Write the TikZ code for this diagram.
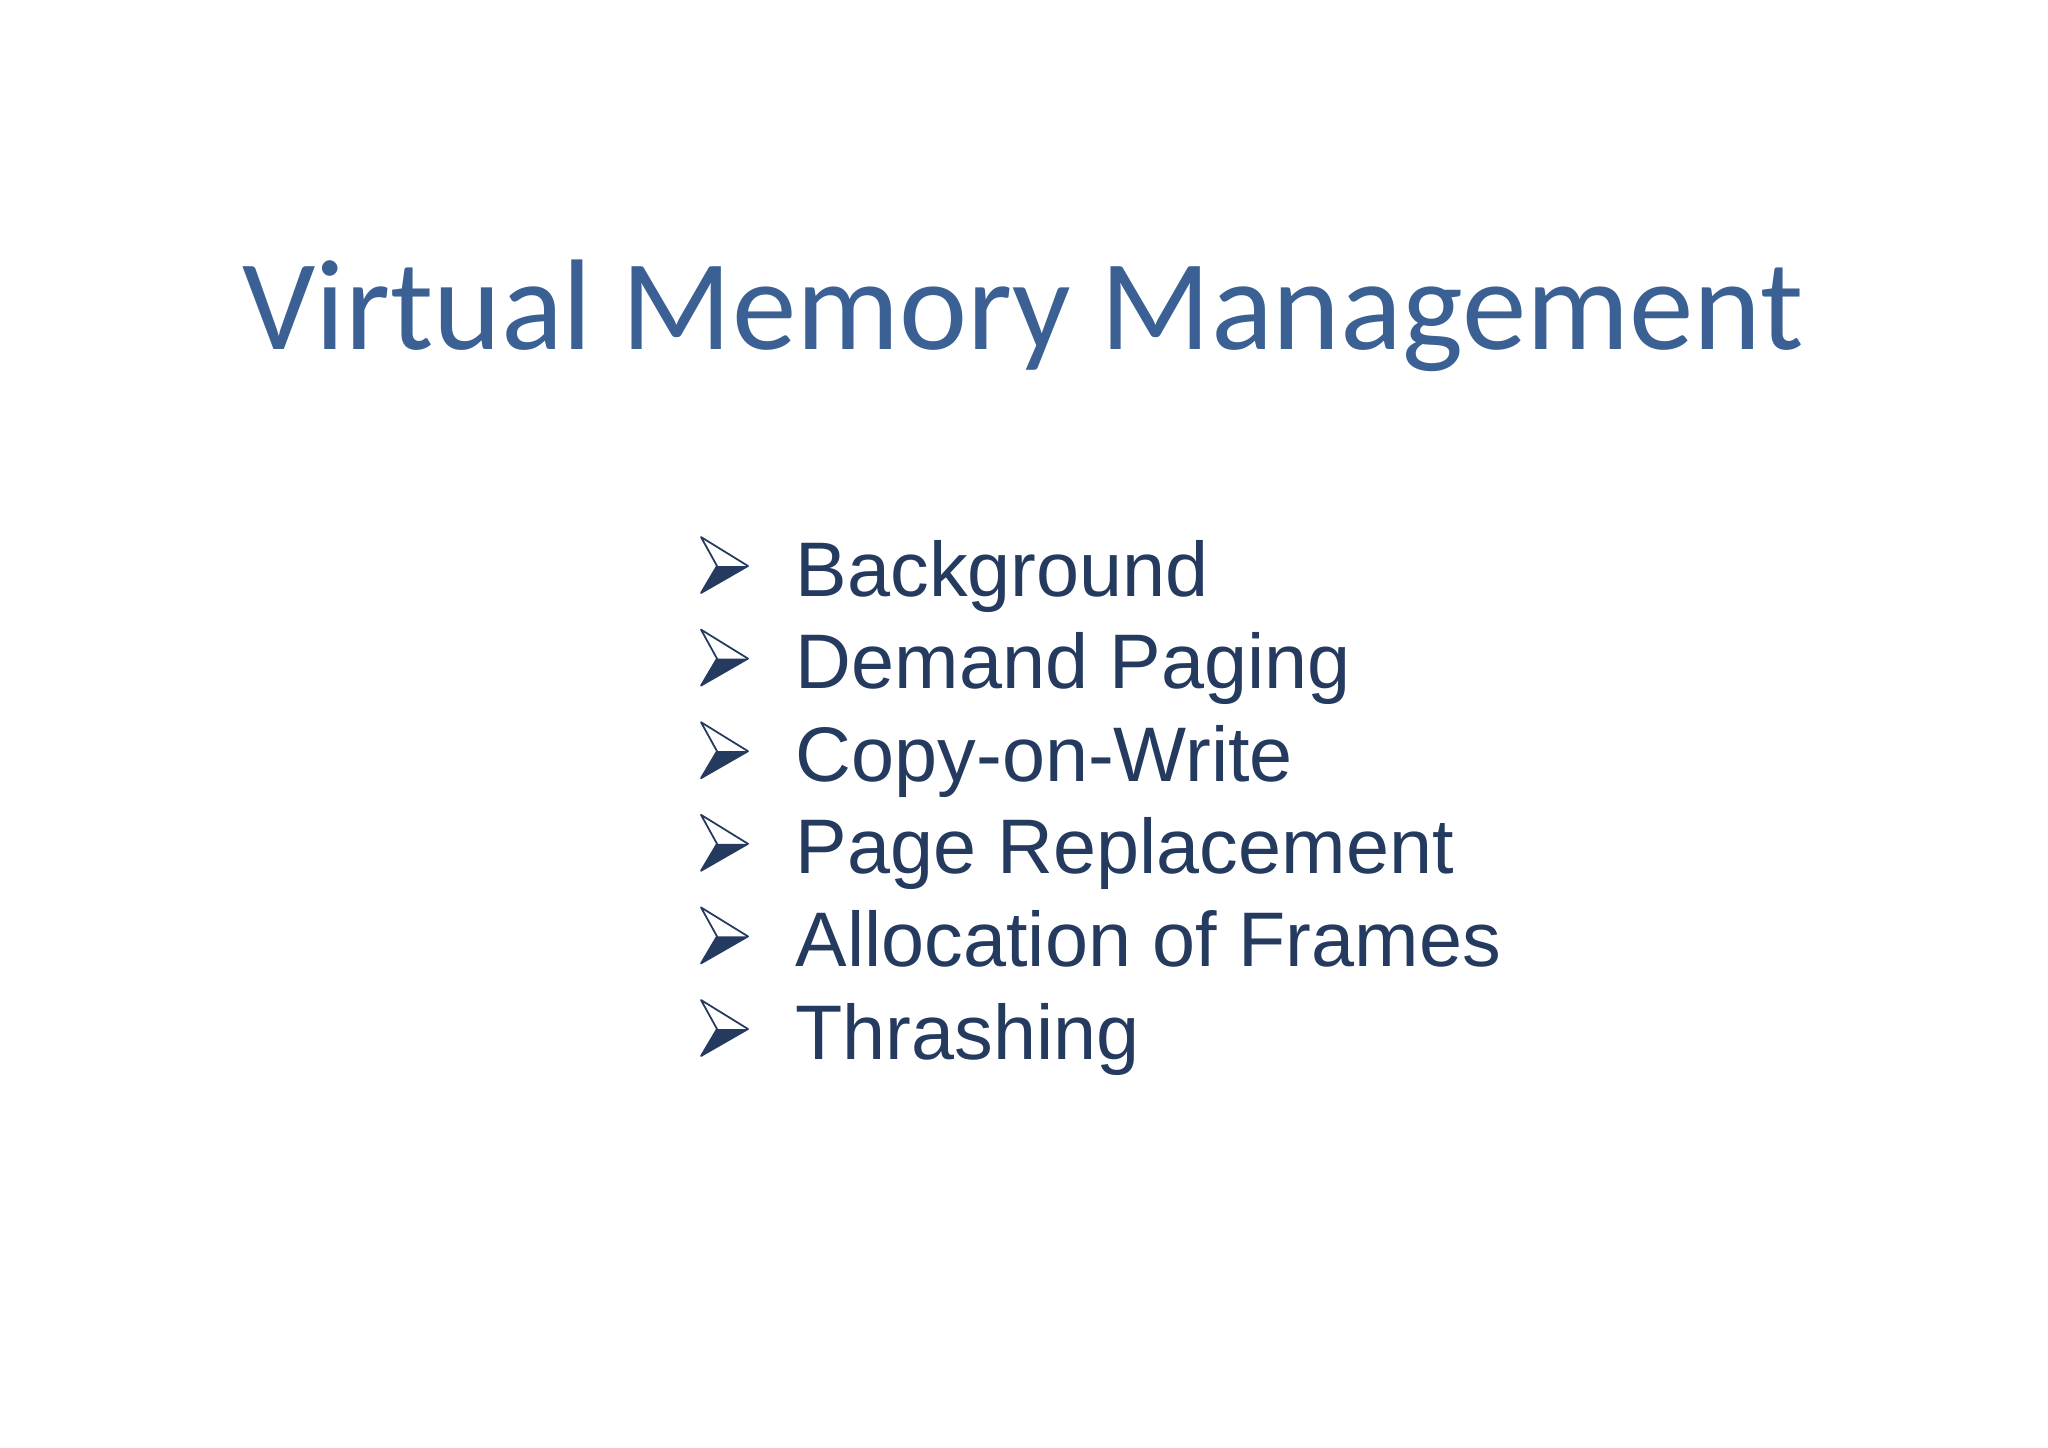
\documentclass[tikz,border=0pt]{standalone}
\usepackage{fontspec}
\setmainfont{Liberation Sans}
\newfontfamily\titlefont{Carlito}
\definecolor{titleblue}{HTML}{3A6094}
\definecolor{navy}{HTML}{243A5E}
\begin{document}
\begin{tikzpicture}[x=0.01cm,y=0.01cm,
  item/.style={anchor=base west,inner sep=0pt,text=navy,font=\fontsize{22pt}{26pt}\selectfont}]
\useasboundingbox (0,0) rectangle (2048,1447);
\fill[white] (0,0) rectangle (2048,1447);
\node[anchor=base,inner sep=0pt,text=titleblue,font=\titlefont\fontsize{36.7pt}{40pt}\selectfont] (title) at (1023,1097) {Virtual Memory Management};
\foreach \t [count=\i] in {Background,Demand Paging,Copy-on-Write,Page Replacement,Allocation of Frames,Thrashing}{
  \pgfmathsetmacro{\yb}{1447-596-(\i-1)*92.6}
  \node[item] (b\i) at (795,\yb) {\t};
  \fill[navy] (717,\yb+30) -- (748,\yb+30) -- (701,\yb+3) -- cycle;
  \draw[navy,line width=0.5pt,line join=round] (701,\yb+59) -- (748,\yb+30) -- (701,\yb+3) -- (717,\yb+30) -- cycle;
}
\end{tikzpicture}
\end{document}
